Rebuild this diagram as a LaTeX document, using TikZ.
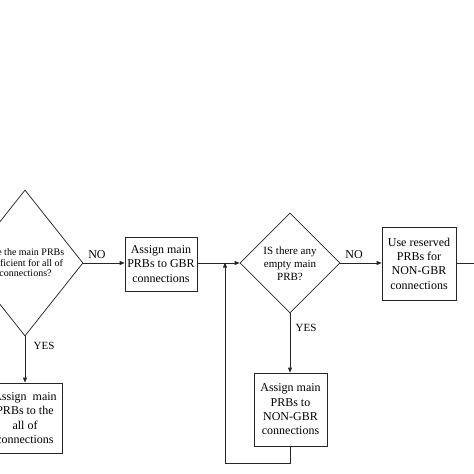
\documentclass[tikz,border=0pt]{standalone}
\usepackage{fontspec}
\setmainfont{Liberation Serif}
\usetikzlibrary{shapes.geometric,arrows.meta}
\begin{document}
\begin{tikzpicture}[x=1pt,y=-1pt,
  line/.style={draw=black!85,line width=0.75pt},
  arr/.style={line,-{Triangle[length=5pt,width=4pt]}},
  boxnode/.style={draw=black!85,line width=0.75pt,rectangle,inner sep=0pt,align=center,font=\fontsize{12}{14.3}\selectfont},
  decnode/.style={draw=black!85,line width=0.75pt,diamond,inner sep=0pt},
  dectext/.style={align=center,inner sep=0pt},
  lbl/.style={font=\fontsize{12}{14}\selectfont,inner sep=0pt}]
\useasboundingbox (0,0) rectangle (474,474);
\clip (0,0) rectangle (474,474);
% decision 1
\node[decnode,minimum width=116pt,minimum height=146pt] (d1) at (25,263) {};
\node[dectext,font=\fontsize{10}{10.5}\selectfont] (t1) at (25.5,263) {Are the main PRBs\\sufficient for all of\\connections?};
% box 1
\node[boxnode,minimum width=74pt,minimum height=70pt] (b1) at (25,418) {Assign\ \ main\\PRBs to the\\all of\\connections};
% box 2
\node[boxnode,minimum width=72pt,minimum height=54pt] (b2) at (161,264) {Assign main\\PRBs to GBR\\connections};
% decision 2
\node[decnode,minimum width=100pt,minimum height=100pt] (d2) at (290,263) {};
\node[dectext,font=\fontsize{11}{13}\selectfont] (t2) at (290,264) {IS there any\\empty main\\PRB?};
% box 3
\node[boxnode,minimum width=73pt,minimum height=73pt] (b3) at (290.5,409.5) {Assign main\\PRBs to\\NON-GBR\\connections};
% box 4
\node[boxnode,minimum width=74pt,minimum height=73pt] (b4) at (419,263.5) {Use reserved\\PRBs for\\NON-GBR\\connections};
% coordinates
\coordinate (out) at (474,263);
\coordinate (lb) at (290,463);
\coordinate (lc) at (225,463);
\coordinate (ld) at (225,263);
% connectors
\draw[arr] (d1.east) -- (b2.west |- d1.east);
\draw[arr] (d1.south) -- (b1.north);
\draw[arr] (b2.east |- d2.west) -- (d2.west);
\draw[arr] (d2.east) -- (b4.west |- d2.east);
\draw[arr] (d2.south) -- (b3.north -| d2.south);
\draw[line] (b4.east |- out) -- (out);
\draw[line] (b3.south -| lb) -- (lb) -- (lc) -- ([yshift=0.4pt]ld);
\draw[arr] (lc) -- ([yshift=0.4pt]ld);
% labels
\node[lbl] (no1) at (97,255) {NO};
\node[lbl,font=\fontsize{11}{13}\selectfont] (yes1) at (44,346) {YES};
\node[lbl] (no2) at (354,255) {NO};
\node[lbl,font=\fontsize{11}{13}\selectfont] (yes2) at (306,328) {YES};
\end{tikzpicture}
\end{document}
